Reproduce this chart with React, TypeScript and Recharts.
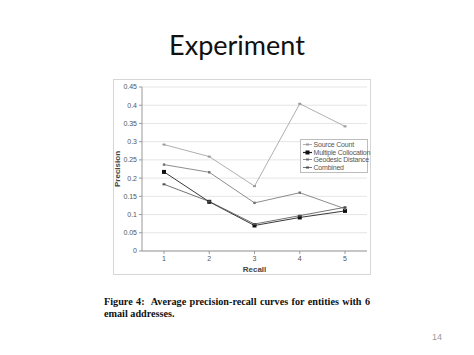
import React from "react";
import { LineChart, Line, XAxis, YAxis, CartesianGrid, Legend, Label } from "recharts";

// precision at each recall level
const recall = [1, 2, 3, 4, 5];
const sourceCount = [0.292, 0.259, 0.178, 0.404, 0.342];
const multipleCollocation = [0.217, 0.135, 0.07, 0.092, 0.11];
const geodesicDistance = [0.237, 0.216, 0.132, 0.16, 0.116];
const combined = [0.183, 0.136, 0.074, 0.097, 0.12];
const yTicks = [0, 0.05, 0.1, 0.15, 0.2, 0.25, 0.3, 0.35, 0.4, 0.45];

const seriesInfo = [
  { key: "sourceCount", name: "Source Count", color: "#9a9a9a", marker: "dash" },
  { key: "multipleCollocation", name: "Multiple Collocation", color: "#222222", marker: "square" },
  { key: "geodesicDistance", name: "Geodesic Distance", color: "#707070", marker: "dot" },
  { key: "combined", name: "Combined", color: "#505050", marker: "dash" },
];

const rows = recall.map((r, i) => ({
  recall: r,
  sourceCount: sourceCount[i],
  multipleCollocation: multipleCollocation[i],
  geodesicDistance: geodesicDistance[i],
  combined: combined[i],
}));

const axisFont = { fontFamily: "'Liberation Sans', Arial, sans-serif", fontSize: 7, fill: "#555" };

const makeDot = (marker: string, color: string) => (props: any) => {
  const { cx, cy, index } = props;
  if (cx == null || cy == null) return <g key={index} />;
  if (marker === "square") {
    return <rect key={index} x={cx - 2} y={cy - 2} width={4} height={4} fill="#111" />;
  }
  if (marker === "dot") {
    return <rect key={index} x={cx - 1.2} y={cy - 1.2} width={2.4} height={2.4} fill={color} />;
  }
  return <rect key={index} x={cx - 1.5} y={cy - 1} width={3} height={2} fill={color} />;
};

const LegendBox = () => (
  <div
    style={{
      border: "1px solid #bdbdbd",
      background: "#fff",
      padding: "1px 2px",
      fontFamily: "'Liberation Sans', Arial, sans-serif",
      fontSize: 7,
      color: "#555",
      lineHeight: "7.6px",
      width: 68,
      boxSizing: "border-box",
    }}
  >
    {seriesInfo.map((s) => (
      <div key={s.key} style={{ display: "flex", alignItems: "center", whiteSpace: "nowrap" }}>
        <svg width={9} height={7} style={{ marginRight: 1.5, flexShrink: 0 }}>
          <line x1={0} y1={3.5} x2={9} y2={3.5} stroke={s.color} strokeWidth={s.marker === "square" ? 1.2 : 0.8} />
          {s.marker === "square" ? (
            <rect x={2.5} y={1.5} width={4} height={4} fill="#111" />
          ) : (
            <rect x={3} y={2.5} width={3} height={2} fill={s.color} />
          )}
        </svg>
        <span style={{ letterSpacing: -0.2 }}>{s.name}</span>
      </div>
    ))}
  </div>
);

export default function App() {
  return (
    <div style={{ position: "absolute", left: 0, top: 0, width: 474, height: 355, background: "#fff" }}>
      <div
        style={{
          position: "absolute",
          left: 0,
          top: 28,
          width: 474,
          textAlign: "center",
          fontFamily: "Lato, 'Open Sans', sans-serif",
          fontSize: 27,
          color: "#111",
        }}
      >
        Experiment
      </div>

      <div style={{ position: "absolute", left: 113, top: 79, width: 258, height: 196, border: "1px solid #d6d6d6", boxSizing: "border-box" }}>
        <LineChart width={256} height={194} data={rows} margin={{ top: 7, right: 3, left: 0, bottom: 0 }}>
          <CartesianGrid vertical={false} stroke="#dedede" strokeWidth={0.8} />
          <XAxis
            dataKey="recall"
            tick={axisFont}
            tickSize={3}
            height={23}
            padding={{ left: 22, right: 22 }}
            axisLine={{ stroke: "#999" }}
            tickLine={{ stroke: "#999" }}
          >
            <Label
              content={({ viewBox }: any) => (
                <text
                  x={viewBox.x + viewBox.width / 2}
                  y={viewBox.y + 21}
                  textAnchor="middle"
                  style={{ fontFamily: "'Liberation Sans', Arial, sans-serif", fontSize: 8, fontWeight: "bold", fill: "#444" }}
                >
                  Recall
                </text>
              )}
            />
          </XAxis>
          <YAxis
            domain={[0, 0.45]}
            ticks={yTicks}
            tick={axisFont}
            tickSize={3}
            width={28}
            interval={0}
            axisLine={{ stroke: "#999" }}
            tickLine={{ stroke: "#999" }}
          >
            <Label
              content={({ viewBox }: any) => (
                <text
                  x={viewBox.x + 6}
                  y={viewBox.y + viewBox.height / 2}
                  textAnchor="middle"
                  transform={`rotate(-90 ${viewBox.x + 6} ${viewBox.y + viewBox.height / 2})`}
                  style={{ fontFamily: "'Liberation Sans', Arial, sans-serif", fontSize: 8, fontWeight: "bold", fill: "#444" }}
                >
                  Precision
                </text>
              )}
            />
          </YAxis>
          <YAxis yAxisId="edge" orientation="right" width={0} tick={false} tickLine={false} axisLine={{ stroke: "#999" }} />
          <Legend
            layout="horizontal"
            verticalAlign="middle"
            align="center"
            content={() => <LegendBox />}
            wrapperStyle={{ left: 186, top: 59, width: 70 }}
          />
          {seriesInfo.map((s) => (
            <Line
              key={s.key}
              dataKey={s.key}
              name={s.name}
              stroke={s.color}
              strokeWidth={s.marker === "square" ? 0.9 : 0.8}
              dot={makeDot(s.marker, s.color)}
              activeDot={false}
              isAnimationActive={false}
            />
          ))}
        </LineChart>
      </div>

      <div
        style={{
          position: "absolute",
          left: 104,
          top: 296,
          width: 266,
          textAlign: "justify",
          fontFamily: "'Liberation Serif', 'Times New Roman', serif",
          fontWeight: "bold",
          fontSize: 10.2,
          lineHeight: "12px",
          color: "#111",
        }}
      >
        Figure 4:&nbsp; Average precision-recall curves for entities with 6 email addresses.
      </div>

      <div
        style={{
          position: "absolute",
          left: 432,
          top: 332,
          fontFamily: "'Liberation Sans', Arial, sans-serif",
          fontSize: 9,
          color: "#999",
        }}
      >
        14
      </div>
    </div>
  );
}
